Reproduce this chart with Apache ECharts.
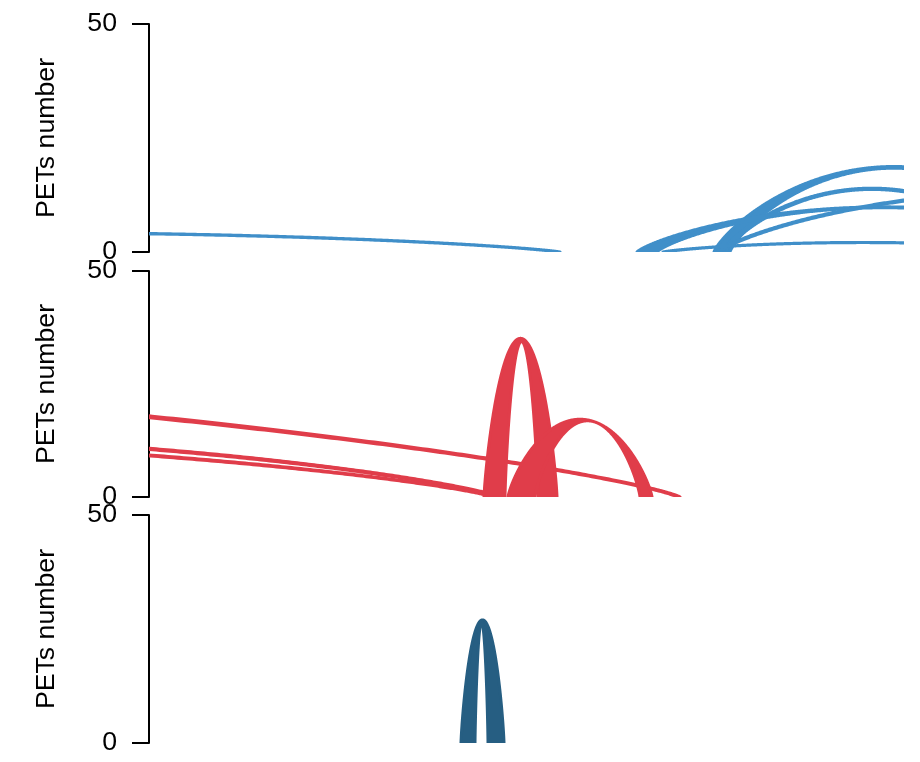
<!DOCTYPE html>
<html>
<head>
<meta charset="utf-8">
<script src="https://cdn.jsdelivr.net/npm/echarts@6/dist/echarts.min.js"></script>
<style>
  html, body { margin: 0; padding: 0; background: #fff; }
  #main { width: 920px; height: 762px; }
</style>
</head>
<body>
<div id="main"></div>
<script>
// loops (bedpe-like): anchors in kb relative to the window start, height = PETs
const loopPanel  = [0, 0, 0, 0, 0, 0, 1, 1, 1, 1, 1, 2];
const loopStart1 = [-709, 565, 573, 488, 568, 514, -3469, -1317, -1654, 335, 359, 312];
const loopEnd1   = [-706, 581, 577, 508, 571, 517, -3466, -1311, -1651, 356, 386, 326];
const loopStart2 = [408, 909, 869, 964, 1247, 911, 528, 345, 343, 389, 491, 339];
const loopEnd2   = [411, 925, 873, 984, 1250, 914, 531, 351, 346, 408, 503, 355];
const loopPets   = [4.3, 18.75, 14.0, 9.9, 13.7, 2.1, 33.4, 14.95, 14.55, 35.1, 17.2, 27.0];

const windowKb = [0, 755];
const yTicks = [0, 50];
const panelColors = ['#408FC9', '#E03D4A', '#265E82'];

const chart = echarts.init(document.getElementById('main'));

const grids = [
  { left: 149, right: 16, top: 24, height: 228 },
  { left: 149, right: 16, top: 271, height: 226 },
  { left: 149, right: 16, top: 515, height: 228 }
];

function renderLoop(params, api) {
  const s1 = api.value(0), e1 = api.value(1), s2 = api.value(2), e2 = api.value(3);
  const h = api.value(4);
  const N = 600;
  const c = (s1 + e2) / 2, a = (e2 - s1) / 2;
  const ci = (e1 + s2) / 2, ai = (s2 - e1) / 2;
  const hi = h * 0.98;
  const pts = [];
  // outer arc left to right, then inner arc back
  for (let i = 0; i <= N; i++) {
    const th = Math.PI * i / N;
    pts.push(api.coord([c - a * Math.cos(th), h * Math.pow(Math.sin(th), 1.6)]));
  }
  for (let i = 0; i <= N; i++) {
    const th = Math.PI * i / N;
    pts.push(api.coord([ci + ai * Math.cos(th), hi * Math.pow(Math.sin(th), 1.6)]));
  }
  const cs = params.coordSys;
  const color = panelColors[params.seriesIndex];
  return {
    type: 'polygon',
    shape: { points: pts },
    clipPath: { type: 'rect', shape: { x: cs.x, y: cs.y, width: cs.width, height: cs.height } },
    style: { fill: color, stroke: color, lineWidth: 3, lineJoin: 'round' }
  };
}

const series = [0, 1, 2].map(function (p) {
  const data = [];
  for (let i = 0; i < loopPanel.length; i++) {
    if (loopPanel[i] === p) {
      data.push([loopStart1[i], loopEnd1[i], loopStart2[i], loopEnd2[i], loopPets[i]]);
    }
  }
  return {
    type: 'custom',
    xAxisIndex: p,
    yAxisIndex: p,
    clip: true,
    silent: true,
    renderItem: renderLoop,
    encode: { x: [0, 3], y: 4 },
    data: data
  };
});

const option = {
  animation: false,
  grid: grids,
  xAxis: grids.map(function (g, i) {
    return { type: 'value', gridIndex: i, min: windowKb[0], max: windowKb[1], show: false };
  }),
  yAxis: grids.map(function (g, i) {
    return {
      type: 'value',
      gridIndex: i,
      min: yTicks[0],
      max: yTicks[1],
      interval: yTicks[1] - yTicks[0],
      name: 'PETs number',
      nameLocation: 'middle',
      nameGap: 89,
      nameTextStyle: { fontSize: 26.7, color: '#000', fontFamily: 'Liberation Sans, Arial, sans-serif' },
      axisLine: { show: true, lineStyle: { color: '#000', width: 2 } },
      axisTick: { show: true, length: 17, lineStyle: { color: '#000', width: 2 } },
      axisLabel: { fontSize: 26.7, color: '#000', margin: 32, fontFamily: 'Liberation Sans, Arial, sans-serif' },
      splitLine: { show: false }
    };
  }),
  series: series
};

chart.setOption(option);
</script>
</body>
</html>
